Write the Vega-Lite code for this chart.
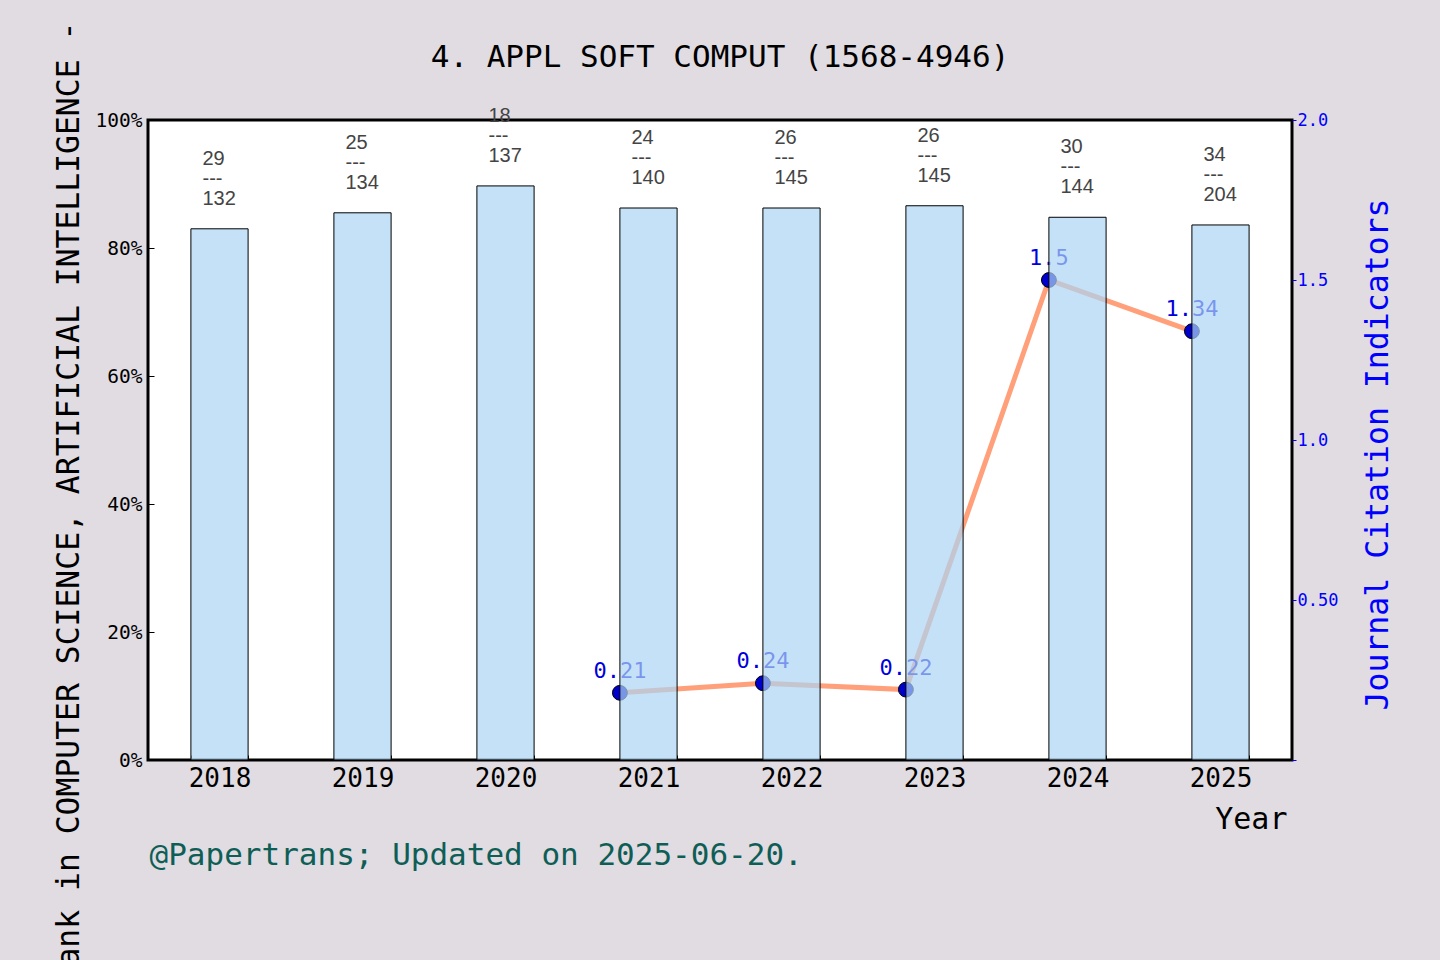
{
  "$schema": "https://vega.github.io/schema/vega-lite/v6.json",
  "width": 1144,
  "height": 640,
  "autosize": {"type": "none"},
  "padding": {"left": 148, "top": 120, "right": 148, "bottom": 200},
  "background": "#e0dce2",
  "title": {
    "text": "4. APPL SOFT COMPUT (1568-4946)",
    "frame": "group", "anchor": "middle", "offset": 52, "dy": 129, "baseline": "alphabetic",
    "font": "DejaVu Sans Mono", "fontSize": 31, "fontWeight": "normal", "color": "black"
  },
  "config": {
    "view": {"stroke": "black", "strokeWidth": 3, "fill": "white"},
    "axis": {"grid": false, "domain": false, "labelFlush": false, "labelOverlap": false}
  },
  "data": {
    "values": [
      {"year": "2018", "pct": 0.830, "label": "29\n---\n132", "jci": null},
      {"year": "2019", "pct": 0.855, "label": "25\n---\n134", "jci": null},
      {"year": "2020", "pct": 0.897, "label": "18\n---\n137", "jci": null},
      {"year": "2021", "pct": 0.8625, "label": "24\n---\n140", "jci": 0.21},
      {"year": "2022", "pct": 0.8625, "label": "26\n---\n145", "jci": 0.24},
      {"year": "2023", "pct": 0.866, "label": "26\n---\n145", "jci": 0.22},
      {"year": "2024", "pct": 0.848, "label": "30\n---\n144", "jci": 1.5},
      {"year": "2025", "pct": 0.836, "label": "34\n---\n204", "jci": 1.34}
    ]
  },
  "layer": [
    {
      "transform": [{"filter": "datum.jci != null"}],
      "encoding": {
        "x": {"field": "year", "type": "nominal", "bandPosition": 0,
              "scale": {"type": "band", "paddingInner": 0.6, "paddingOuter": 0.3},
              "axis": {"bandPosition": 0.5, "tickBand": "extent", "labelAlign": "center"}},
        "y": {"field": "jci", "type": "quantitative", "scale": {"domain": [0, 2]},
          "axis": {
            "orient": "right", "title": "Journal Citation Indicators",
            "values": [0, 0.5, 1, 1.5, 2],
            "labelExpr": "datum.value == 0 ? '' : datum.value == 0.5 ? '0.50' : format(datum.value, '.1f')",
            "tickColor": "#0000ff", "tickSize": 4,
            "labelColor": "#0000ff", "labelFont": "DejaVu Sans Mono", "labelFontSize": 17,
            "labelPadding": 1, "labelBaseline": "middle",
            "titleColor": "#0000ff", "titleFont": "DejaVu Sans Mono", "titleFontSize": 31.5,
            "titleFontWeight": "normal", "titleAngle": 270, "titleAlign": "center",
            "titleBaseline": "alphabetic", "titleX": 95, "titleY": 334
          }
        }
      },
      "layer": [
        {"mark": {"type": "line", "color": "#ffa07a", "strokeWidth": 5}},
        {"mark": {"type": "point", "shape": "circle", "filled": true, "fill": "#0000cd",
                  "stroke": "black", "strokeWidth": 1, "size": 220, "opacity": 1}},
        {"mark": {"type": "text", "font": "DejaVu Sans Mono", "fontSize": 22, "color": "#0000dd",
                  "baseline": "alphabetic", "align": "center", "dy": -15},
         "encoding": {"text": {"field": "jci", "type": "quantitative"}}}
      ]
    },
    {
      "encoding": {
        "x": {"field": "year", "type": "nominal",
          "scale": {"type": "band", "paddingInner": 0.6, "paddingOuter": 0.3},
          "axis": {
            "orient": "bottom", "title": "Year", "tickBand": "extent", "bandPosition": 0.5,
            "tickSize": -5, "tickColor": "black", "labelAngle": 0, "labelAlign": "center",
            "labelFont": "DejaVu Sans Mono", "labelFontSize": 26, "labelColor": "black",
            "labelPadding": 10, "labelBaseline": "top",
            "titleFont": "DejaVu Sans Mono", "titleFontSize": 30, "titleFontWeight": "normal",
            "titleColor": "black", "titleAlign": "right", "titleAnchor": "end",
            "titleBaseline": "alphabetic", "titleX": 1139, "titleY": 68
          }
        },
        "y": {"field": "pct", "type": "quantitative", "scale": {"domain": [0, 1]},
          "axis": {
            "orient": "left", "title": "Rank in COMPUTER SCIENCE, ARTIFICIAL INTELLIGENCE -",
            "values": [0, 0.2, 0.4, 0.6, 0.8, 1], "format": ".0%",
            "tickSize": -6, "tickColor": "black",
            "labelFont": "DejaVu Sans Mono", "labelFontSize": 19.5, "labelColor": "black", "labelPadding": 12,
            "titleFont": "DejaVu Sans Mono", "titleFontSize": 31.4, "titleFontWeight": "normal",
            "titleColor": "black", "titleAngle": 270, "titleAlign": "left",
            "titleBaseline": "alphabetic", "titleX": -70, "titleY": 865
          }
        }
      },
      "layer": [
        {"mark": {"type": "bar", "fill": "#add4f4", "fillOpacity": 0.7, "stroke": "black", "strokeWidth": 1}},
        {"mark": {"type": "text", "lineBreak": "\n", "font": "Liberation Sans", "fontSize": 20, "lineHeight": 20,
                  "color": "#444444", "align": "left", "baseline": "alphabetic", "dx": -17, "dy": -64},
         "encoding": {"text": {"field": "label", "type": "nominal"}}}
      ]
    },
    {
      "data": {"values": [{"note": "@Papertrans; Updated on 2025-06-20."}]},
      "mark": {"type": "text", "font": "DejaVu Sans Mono", "fontSize": 31, "color": "#0f5e56",
               "align": "left", "baseline": "alphabetic", "dx": -70},
      "encoding": {
        "x": {"datum": "2018", "type": "nominal"},
        "y": {"datum": -0.164, "type": "quantitative", "scale": {"domain": [0, 1]}, "axis": null},
        "text": {"field": "note", "type": "nominal"}
      }
    }
  ],
  "resolve": {"scale": {"y": "independent"}, "axis": {"y": "independent"}}
}
